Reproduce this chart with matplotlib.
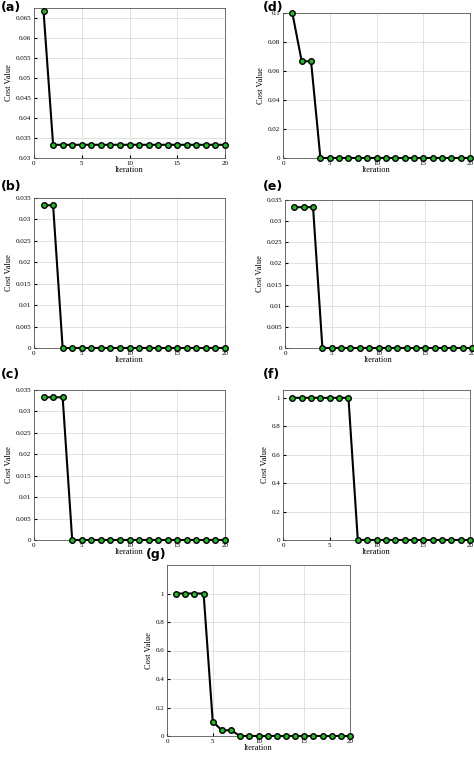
import matplotlib
matplotlib.use("Agg")
import matplotlib.pyplot as plt
import numpy as np

iters = list(range(1, 21))
a_vals = [0.0667] + [0.0333] * 19
b_vals = [0.0333, 0.0333] + [0.0] * 18
c_vals = [0.0333] * 3 + [0.0] * 17
d_vals = [0.1, 0.0667, 0.0667] + [0.0] * 17
e_vals = [0.0333] * 3 + [0.0] * 17
f_vals = [1.0] * 7 + [0.0] * 13
g_vals = [1.0] * 4 + [0.1, 0.04, 0.04] + [0.0] * 13

W, H = 474, 757
fig = plt.figure(figsize=(W / 100, H / 100), dpi=100)
plt.rcParams['font.family'] = ['Liberation Serif', 'DejaVu Serif']

def box(l, t, r, b):
    return [l / W, 1 - b / H, (r - l) / W, (b - t) / H]

panels = [
    ("(a)", a_vals, box(34, 8, 225, 158), (0.03, 0.0675), np.arange(0.03, 0.0651, 0.005), (1, 1)),
    ("(d)", d_vals, box(283, 13, 470, 158), (0, 0.1), np.arange(0, 0.101, 0.02), (263, 1)),
    ("(b)", b_vals, box(34, 198, 225, 348), (0, 0.035), np.arange(0, 0.0351, 0.005), (1, 180)),
    ("(e)", e_vals, box(285, 200, 472, 348), (0, 0.035), np.arange(0, 0.0351, 0.005), (263, 180)),
    ("(c)", c_vals, box(34, 390, 225, 540), (0, 0.035), np.arange(0, 0.0351, 0.005), (1, 368)),
    ("(f)", f_vals, box(283, 390, 470, 540), (0, 1.055), np.arange(0, 1.01, 0.2), (263, 368)),
    ("(g)", g_vals, box(167, 565, 350, 736), (0, 1.2), np.arange(0, 1.01, 0.2), (146, 548)),
]

for label, vals, rect, ylim, yt, lp in panels:
    ax = fig.add_axes(rect)
    ax.plot(iters, vals, color='black', lw=1.5, marker='o', ms=4,
            mfc='#22bb22', mec='black', mew=1.0, clip_on=False, zorder=3)
    ax.set_xlim(0, 20)
    ax.set_ylim(*ylim)
    ax.set_xticks([0, 5, 10, 15, 20])
    ax.set_yticks(yt)
    ax.set_yticklabels(['0' if v == 0 else ('1' if abs(v - 1) < 1e-9 else f"{v:g}") for v in yt])
    ax.grid(True, color='#dddddd', lw=0.6)
    ax.tick_params(labelsize=5, length=2, direction='in', pad=2)
    ax.set_xlabel("Iteration", fontsize=6, labelpad=0)
    ax.set_ylabel("Cost Value", fontsize=6, labelpad=2)
    for s in ax.spines.values():
        s.set_color('#555555'); s.set_linewidth(0.6)
    fig.text(lp[0] / W, 1 - lp[1] / H, label, fontsize=9, fontweight='bold',
             family='DejaVu Sans', va='top', ha='left')

fig.savefig("out.png", dpi=100)
